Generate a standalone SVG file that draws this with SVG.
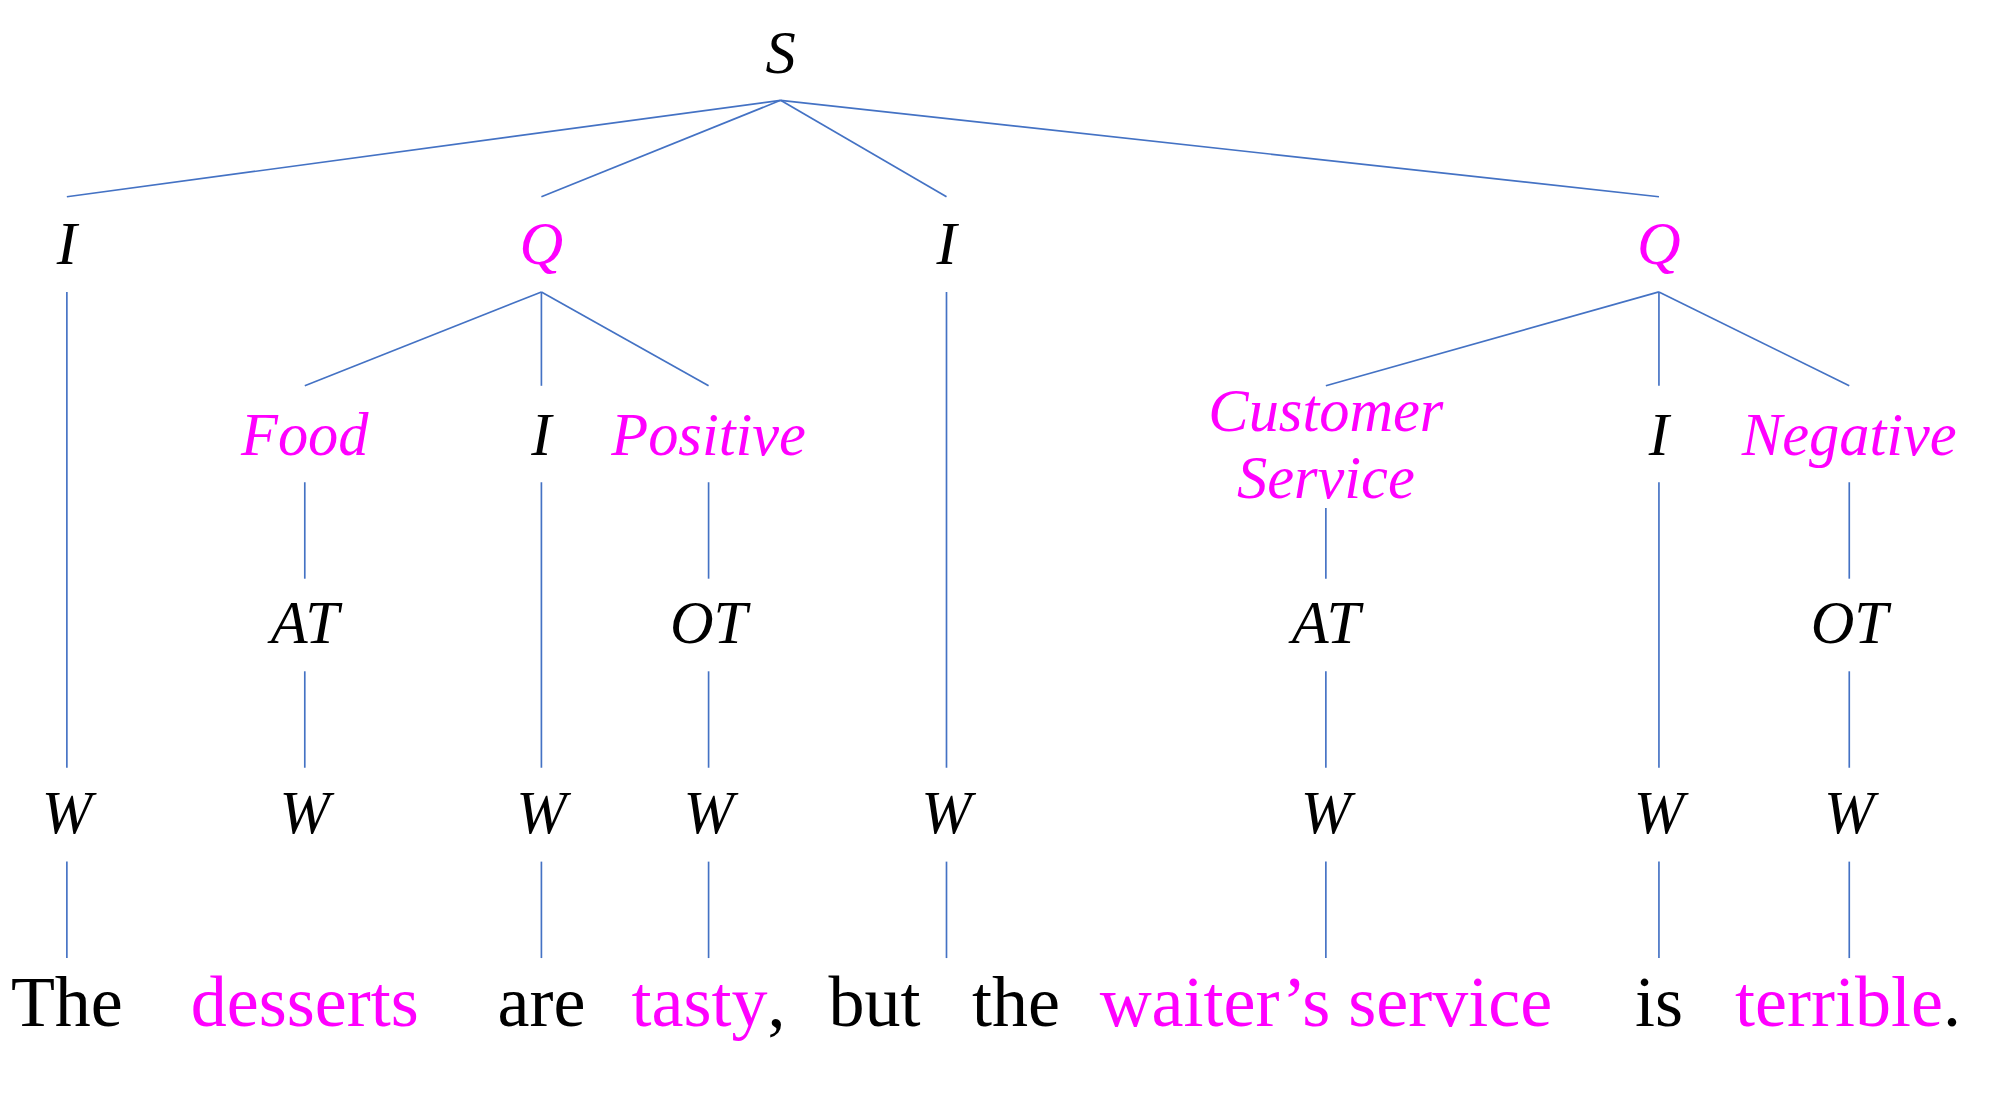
<svg xmlns="http://www.w3.org/2000/svg" width="2015" height="1100" viewBox="0 0 2015 1100">
<style>
.l{font-family:"Liberation Serif",serif;font-style:italic;font-size:47px;text-anchor:middle;fill:#000}
.w{font-family:"Liberation Serif",serif;font-size:56px;text-anchor:middle;fill:#000}
.m{fill:#ff00ff}
.c line{stroke:#4472c4;stroke-width:1.3}
</style>
<rect width="2015" height="1100" fill="#fff"/>
<g transform="scale(1.286)">
<g class="c" id="connectors">
<line x1="607" y1="78" x2="52" y2="153"/><line x1="607" y1="78" x2="421" y2="153"/><line x1="607" y1="78" x2="736" y2="153"/><line x1="607" y1="78" x2="1290" y2="153"/>
<line x1="52" y1="227" x2="52" y2="597"/><line x1="736" y1="227" x2="736" y2="597"/>
<line x1="421" y1="227" x2="237" y2="300"/><line x1="421" y1="227" x2="421" y2="300"/><line x1="421" y1="227" x2="551" y2="300"/>
<line x1="1290" y1="227" x2="1031" y2="300"/><line x1="1290" y1="227" x2="1290" y2="300"/><line x1="1290" y1="227" x2="1438" y2="300"/>
<line x1="237" y1="375" x2="237" y2="450"/><line x1="421" y1="375" x2="421" y2="597"/><line x1="551" y1="375" x2="551" y2="450"/>
<line x1="1031" y1="395" x2="1031" y2="450"/><line x1="1290" y1="375" x2="1290" y2="597"/><line x1="1438" y1="375" x2="1438" y2="450"/>
<line x1="237" y1="522" x2="237" y2="597"/><line x1="551" y1="522" x2="551" y2="597"/><line x1="1031" y1="522" x2="1031" y2="597"/><line x1="1438" y1="522" x2="1438" y2="597"/>
<line x1="52" y1="670" x2="52" y2="745"/><line x1="421" y1="670" x2="421" y2="745"/><line x1="551" y1="670" x2="551" y2="745"/><line x1="736" y1="670" x2="736" y2="745"/><line x1="1031" y1="670" x2="1031" y2="745"/><line x1="1290" y1="670" x2="1290" y2="745"/><line x1="1438" y1="670" x2="1438" y2="745"/>
</g>
<g id="S"><text class="l" x="607" y="57">S</text></g>
<g id="I1"><text class="l" x="52" y="205">I</text></g>
<g id="Q1"><text class="l m" x="421" y="205">Q</text></g>
<g id="I2"><text class="l" x="736" y="205">I</text></g>
<g id="Q2"><text class="l m" x="1290" y="205">Q</text></g>
<g id="food"><text class="l m" x="237" y="354">Food</text></g>
<g id="I3"><text class="l" x="421" y="354">I</text></g>
<g id="pos"><text class="l m" x="551" y="354">Positive</text></g>
<g id="cs"><text class="l m" x="1031" y="335">Customer</text><text class="l m" x="1031" y="387">Service</text></g>
<g id="I4"><text class="l" x="1290" y="354">I</text></g>
<g id="neg"><text class="l m" x="1438" y="354">Negative</text></g>
<g id="AT1"><text class="l" x="237" y="500">AT</text></g>
<g id="OT1"><text class="l" x="551" y="500">OT</text></g>
<g id="AT2"><text class="l" x="1031" y="500">AT</text></g>
<g id="OT2"><text class="l" x="1438" y="500">OT</text></g>
<g id="W1"><text class="l" x="52" y="648">W</text></g>
<g id="W2"><text class="l" x="237" y="648">W</text></g>
<g id="W3"><text class="l" x="421" y="648">W</text></g>
<g id="W4"><text class="l" x="551" y="648">W</text></g>
<g id="W5"><text class="l" x="736" y="648">W</text></g>
<g id="W6"><text class="l" x="1031" y="648">W</text></g>
<g id="W7"><text class="l" x="1290" y="648">W</text></g>
<g id="W8"><text class="l" x="1438" y="648">W</text></g>
<g id="words">
<text class="w" x="52" y="798">The</text>
<text class="w m" x="237" y="798">desserts</text>
<text class="w" x="421" y="798">are</text>
<text class="w" x="551" y="798"><tspan class="m">tasty</tspan>,</text>
<text class="w" x="680" y="798">but</text>
<text class="w" x="790" y="798">the</text>
<text class="w m" x="1031" y="798">waiter’s service</text>
<text class="w" x="1290" y="798">is</text>
<text class="w" x="1437" y="798"><tspan class="m">terrible</tspan>.</text>
</g>
</g>
</svg>
